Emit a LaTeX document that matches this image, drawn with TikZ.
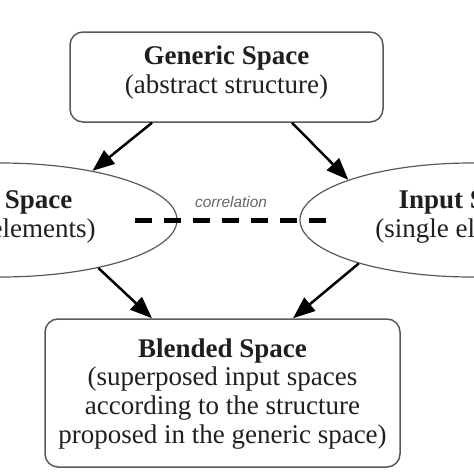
\documentclass[tikz,border=0pt]{standalone}
\usepackage{fontspec}
\setmainfont{Liberation Serif}
\newfontfamily\corfont{Liberation Sans}
\usetikzlibrary{arrows.meta,shapes.geometric}
\begin{document}
\begin{tikzpicture}[x=1pt,y=-1pt,
  boxstyle/.style={draw=black!65,line width=1.5pt,rounded corners=13pt,inner sep=0pt},
  ellstyle/.style={draw=black!65,line width=1.2pt,ellipse,inner sep=0pt},
  txt/.style={align=center,text=black!88,font=\fontsize{27}{28.7}\selectfont,inner sep=0pt},
  arr/.style={line width=2.5pt,-{Triangle[length=22pt,width=17pt]}},
  corr/.style={line width=5pt,dash pattern=on 17pt off 12pt}]
\useasboundingbox (0,0) rectangle (474,474);
% shapes
\node[boxstyle,minimum width=313pt,minimum height=90pt] (gen) at (226.5,77) {};
\node[boxstyle,minimum width=355pt,minimum height=148pt] (bl) at (222.5,393) {};
\node[ellstyle,minimum width=354pt,minimum height=114pt] (lin) at (0,220) {};
\node[ellstyle,minimum width=344pt,minimum height=114pt] (rin) at (472,220) {};
% texts
\node[txt] (gent) at (226.5,72.2) {\textbf{Generic Space}\\(abstract structure)};
\node[txt] (blt) at (222.5,393.8) {\textbf{Blended Space}\\(superposed input spaces\\according to the structure\\proposed in the generic space)};
\node[txt] (lint) at (3,217.3) {\textbf{Input Space}\\(single elements)};
\node[txt] (rint) at (468,217.3) {\textbf{Input Space}\\(single elements)};
\node[font=\corfont\itshape\fontsize{15.4}{16}\selectfont,text=black!60,inner sep=0pt,anchor=base] (corl) at (231,207) {correlation};
% correlation line
\coordinate (dl) at (135,220);
\coordinate (dr) at (333,220);
\draw[corr] (dl) -- (dr);
% arrows
\draw[arr] ([xshift=-74.5pt]gen.south) -- (lin.28);
\draw[arr] ([xshift=65.5pt]gen.south) -- (rin.162.4);
\draw[arr] (lin.334) -- ([xshift=-70.5pt]bl.north);
\draw[arr] (rin.201.8) -- ([xshift=70.5pt]bl.north);
\end{tikzpicture}
\end{document}
